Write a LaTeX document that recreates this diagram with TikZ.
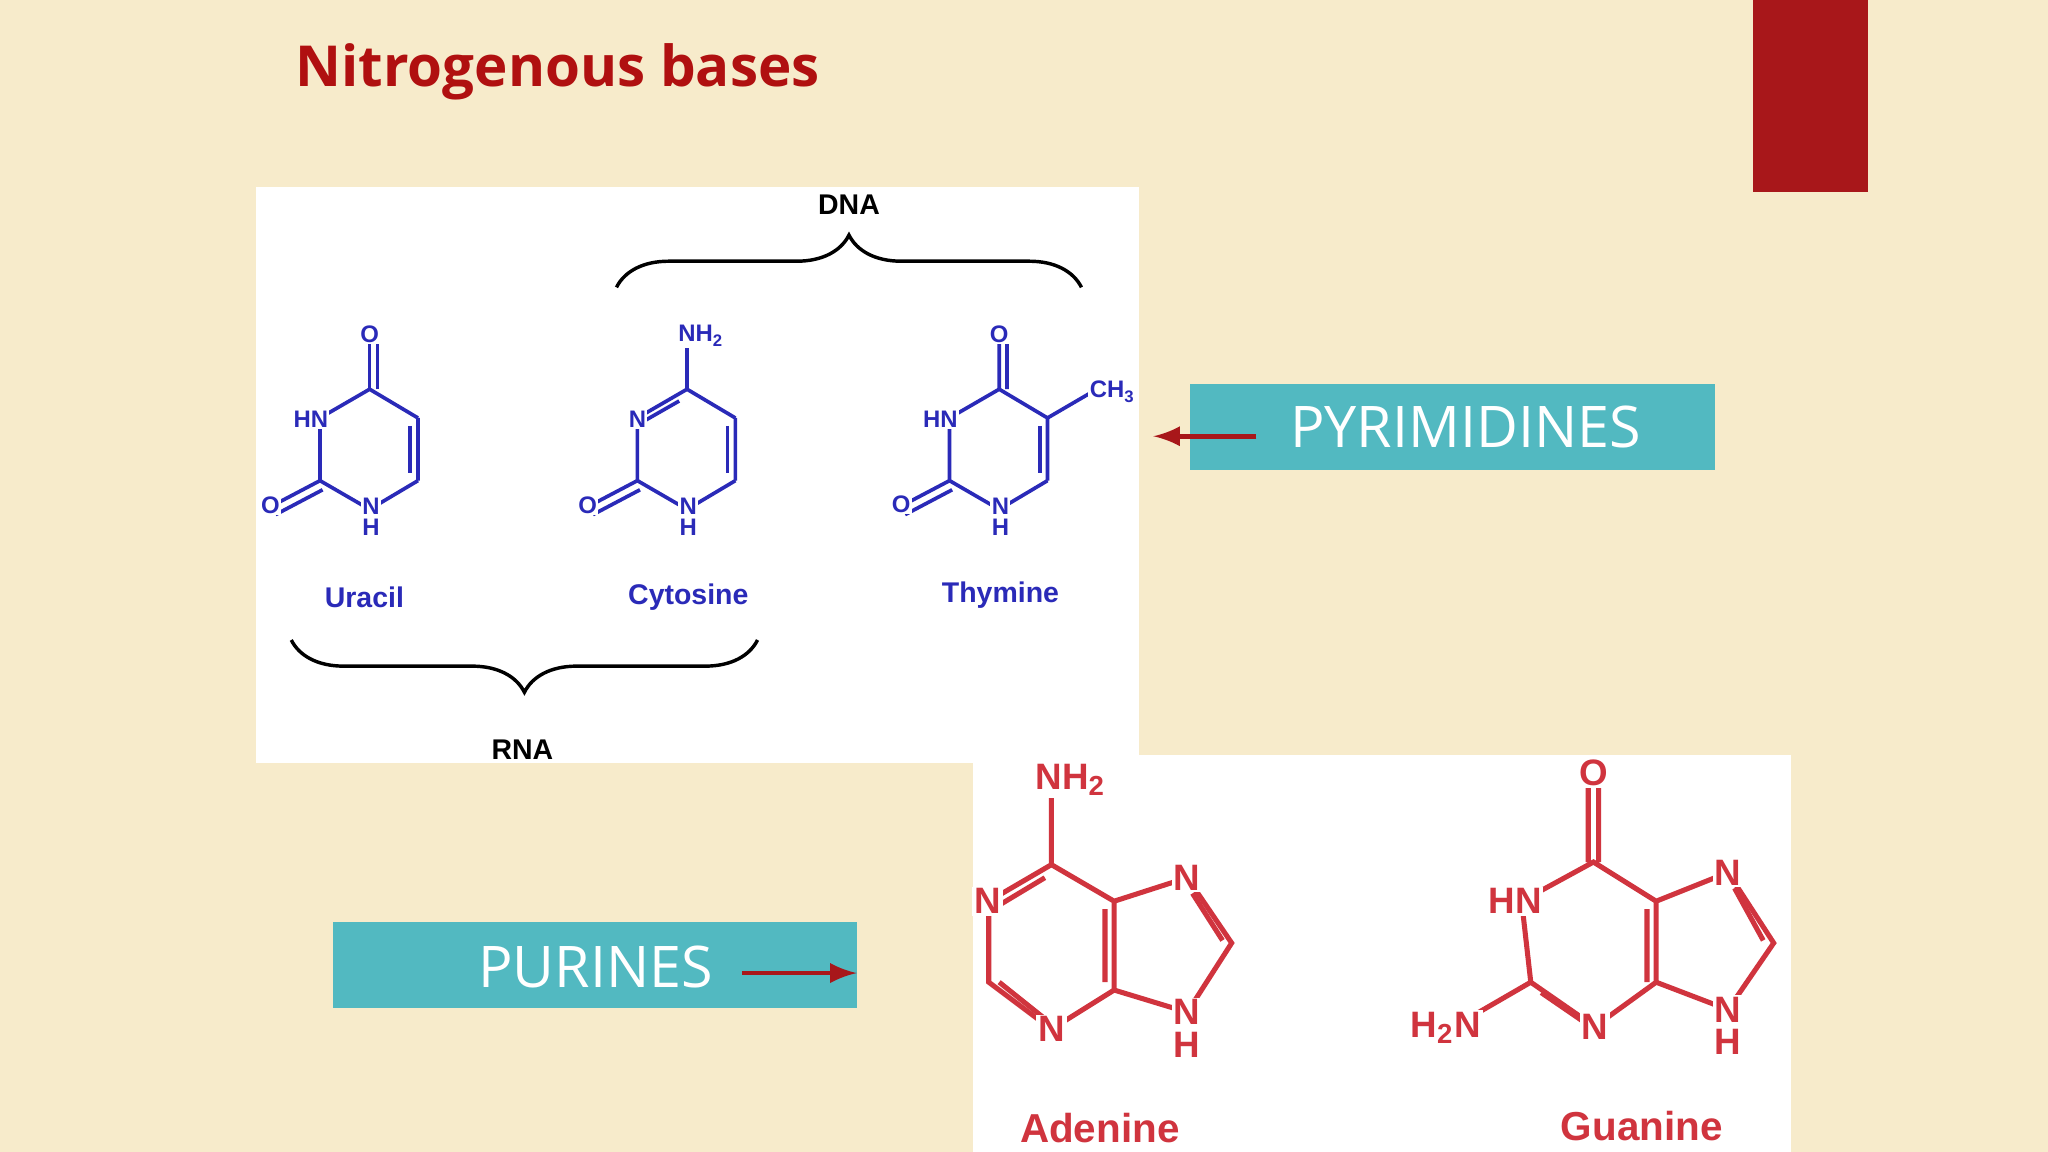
\documentclass[tikz,border=0pt]{standalone}
\usepackage{fontspec}
\setmainfont{Open Sans}
\newfontfamily\chem{Liberation Sans}
\usetikzlibrary{decorations.pathreplacing}
\definecolor{bg}{HTML}{F7EBCB}
\definecolor{dred}{HTML}{A8171A}
\definecolor{tred}{HTML}{B01010}
\definecolor{teal}{HTML}{52B9C1}
\definecolor{cb}{HTML}{2A2AB8}
\definecolor{cr}{HTML}{D0343E}
\tikzset{
 bb/.style={draw=cb,line width=0.8pt},
 rb/.style={draw=cr,line width=1.1pt},
 al/.style={fill=white,inner sep=0.3pt,text=cb,font=\chem\bfseries\fontsize{5.2}{5}\selectfont},
 ar/.style={fill=white,inner sep=0.4pt,text=cr,font=\chem\bfseries\fontsize{8}{8}\selectfont},
 nm/.style={text=#1,font=\chem\bfseries\fontsize{6.2}{6}\selectfont},
 tbox/.style={fill=teal,text=white,font=\fontsize{12.5}{13}\selectfont,minimum height=0.66cm,inner sep=0pt},
}
\begin{document}
\begin{tikzpicture}[x=0.01cm,y=-0.01cm]
\useasboundingbox (0,0) rectangle (1568,882);
\fill[bg] (0,0) rectangle (1568,882);
\fill[dred] (1342,0) rectangle (1430,147);
\node[anchor=west,text=tred,font=\bfseries\fontsize{12.3}{13}\selectfont] (title) at (214,55) {Nitrogenous bases};
\fill[white] (196,143) rectangle (872,584);
\fill[white] (745,578) rectangle (1371,882);
% pyrimidines
\foreach \cx/\kind in {283/U,526/C,765/T}{
 \begin{scope}[xshift=\cx*0.01cm]
 \draw[bb] (0,298)--(37,320) (37,320)--(37,368) (37,368)--(0,390) (0,390)--(-38,368) (-38,368)--(-38,320) (-38,320)--(0,298);
 \draw[bb] (31,326)--(31,362);
 \draw[bb] (-38,368)--(-76,388) (-36,375)--(-72,394);
 \end{scope}}
% Uracil
\draw[bb] (283,298)--(283,256) (289,298)--(289,262);
\node[al] (u1) at (283,256) {O};
\node[al] (u2) at (238,321) {HN};
\node[al] (u3) at (284,388) {N};
\node[al,fill=none] (u4) at (284,404) {H};
\node[al] (u5) at (207,387) {O};
% Cytosine
\draw[bb] (526,298)--(526,262) (520,307)--(492,323);
\node[al] (c1) at (537,257) {NH\textsubscript{2}};
\node[al] (c2) at (488,321) {N};
\node[al] (c3) at (527,388) {N};
\node[al,fill=none] (c4) at (527,404) {H};
\node[al] (c5) at (450,387) {O};
% Thymine
\draw[bb] (765,298)--(765,256) (771,298)--(771,262) (802,320)--(838,299);
\node[al] (t1) at (765,256) {O};
\node[al] (t2) at (720,321) {HN};
\node[al] (t3) at (766,388) {N};
\node[al,fill=none] (t4) at (766,404) {H};
\node[al] (t5) at (690,386) {O};
\node[al] (t6) at (852,300) {CH\textsubscript{3}};
\node[nm=cb] (un) at (279,457) {Uracil};
\node[nm=cb] (cn) at (527,457) {Cytosine};
\node[nm=cb] (tn) at (766,456) {Thymine};
% braces
\draw[line width=0.75pt,decorate,decoration={brace,amplitude=0.4cm}] (472,220)--(828,220);
\node[font=\chem\bfseries\fontsize{6.2}{6}\selectfont] (dna) at (650,157) {DNA};
\draw[line width=0.75pt,decorate,decoration={brace,amplitude=0.4cm,mirror}] (223,490)--(580,490);
\node[font=\chem\bfseries\fontsize{6.2}{6}\selectfont] (rna) at (400,574) {RNA};
% boxes
\node[tbox,minimum width=4.02cm] (pyr) at (1112,327) {\hspace{0.2cm}PYRIMIDINES};
\coordinate (pa) at (883,334);
\draw[dred,line width=1pt,-latex] (962,334)--(pa);
\node[tbox,minimum width=4.01cm] (pur) at (455.5,739) {};
\node[text=white,font=\fontsize{12.5}{13}\selectfont] (purt) at (456,740) {PURINES};
\coordinate (pb) at (656,745);
\draw[dred,line width=1pt,-latex] (568,745)--(pb);
% Adenine
\draw[rb] (805,662)--(757,690)--(757,752)--(805,788)--(853,758)--(853,690)--cycle
 (853,690)--(909,672)--(943,722)--(909,775)--(853,758) (805,662)--(805,600);
\draw[rb] (800,672)--(765,693) (765,752)--(800,780) (846,696)--(846,752) (913,684)--(936,720);
\node[ar] (a1) at (820,597) {NH\textsubscript{2}};
\node[ar] (a2) at (756,690) {N};
\node[ar] (a3) at (805,788) {N};
\node[ar] (a4) at (909,672) {N};
\node[ar] (a5) at (909,775) {N};
\node[ar,fill=none] (a6) at (909,800) {H};
\node[text=cr,font=\chem\bfseries\fontsize{8.8}{9}\selectfont] (an) at (842,864) {Adenine};
% Guanine
\draw[rb] (1220,660)--(1165,690)--(1172,752)--(1221,786)--(1268,752)--(1268,690)--cycle
 (1268,690)--(1323,668)--(1358,722)--(1323,773)--(1268,752) (1172,752)--(1115,785)
 (1216,660)--(1216,596) (1224,660)--(1224,596);
\draw[rb] (1180,760)--(1215,784) (1261,696)--(1261,752) (1328,680)--(1350,720);
\node[ar] (g1) at (1220,592) {O};
\node[ar] (g2) at (1160,690) {HN};
\node[ar] (g3) at (1221,786) {N};
\node[ar] (g4) at (1107,787) {H\textsubscript{2}N};
\node[ar] (g5) at (1323,668) {N};
\node[ar] (g6) at (1323,773) {N};
\node[ar,fill=none] (g7) at (1323,798) {H};
\node[text=cr,font=\chem\bfseries\fontsize{8.8}{9}\selectfont] (gn) at (1257,862) {Guanine};
\end{tikzpicture}
\end{document}
